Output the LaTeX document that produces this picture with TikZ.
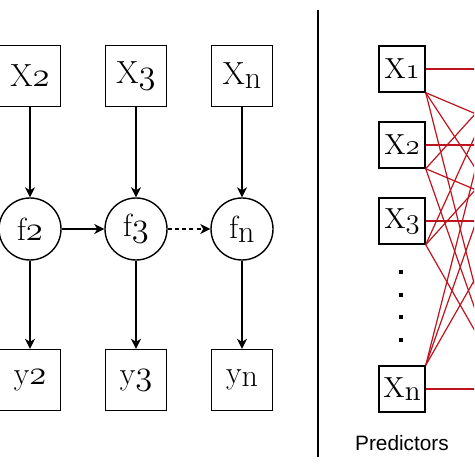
\documentclass[tikz,border=0pt]{standalone}
\usepackage{fontspec}
\newfontfamily\labelfont{Liberation Sans}
\usetikzlibrary{arrows.meta}

\definecolor{linkred}{RGB}{190,20,30}
\newcommand\osnum[1]{{\usefont{OML}{cmm}{m}{it}#1}}

\begin{document}
\begin{tikzpicture}[
	x=0.5pt, y=-0.5pt,
	var/.style={
		rectangle,
		draw=black,
		line width=0.7pt,
		minimum size=30.5pt,
		inner sep=0pt,
		font=\fontsize{16}{18}\selectfont
	},
	input/.style={
		var,
		minimum size=23pt,
		font=\fontsize{14.5}{16}\selectfont
	},
	cell/.style={
		circle,
		draw=black,
		line width=0.7pt,
		minimum size=31pt,
		inner sep=0pt,
		font=\fontsize{16}{18}\selectfont
	},
	edge/.style={-{Stealth[length=5pt,width=5pt,inset=1.5pt]},line width=0.75pt},
	link/.style={draw=linkred,line width=0.6pt},
	dot/.style={rectangle,fill=black,minimum size=2pt,inner sep=0pt},
	label/.style={font=\labelfont\fontsize{10.4}{12}\selectfont}
]

\fill[white] (0,0) rectangle (474,474);
\useasboundingbox (0,0) rectangle (474,474);
\clip (0,0) rectangle (474,474);

% Entradas (izquierda)
\node[var] (x2) at (30,76) {X\osnum{2}};
\node[var] (x3) at (136,76) {X\osnum{3}};
\node[var] (xn) at (242,76) {X\raisebox{-0.3ex}{n}};

% Celdas
\node[cell] (f2) at (30,229) {f\osnum{2}};
\node[cell] (f3) at (136,229) {f\osnum{3}};
\node[cell] (fn) at (242,229) {f\raisebox{-0.3ex}{n}};

% Salidas
\node[var] (y2) at (30,380) {y\osnum{2}};
\node[var] (y3) at (136,380) {y\osnum{3}};
\node[var] (yn) at (242,380) {y\raisebox{-0.2ex}{n}};

% Conexiones
\draw[edge] (x2) -- (f2);
\draw[edge] (x3) -- (f3);
\draw[edge] (xn) -- (fn);
\draw[edge] (f2) -- (f3);
\draw[edge,dashed,dash pattern=on 2pt off 1.6pt] (f3) -- (fn);
\draw[edge] (f2) -- (y2);
\draw[edge] (f3) -- (y3);
\draw[edge] (fn) -- (yn);

% Separador
\draw[line width=1.25pt] (318,10) -- (318,457);

% Predictores (derecha)
\node[input] (in1) at (402,69) {X\osnum{1}};
\node[input] (in2) at (402,145) {X\osnum{2}};
\node[input] (in3) at (402,221) {X\osnum{3}};
\node[input] (inn) at (402,389) {X\raisebox{-0.3ex}{n}};
\node[dot] (d1) at (401,272) {};
\node[dot] (d2) at (401,295) {};
\node[dot] (d3) at (401,317) {};
\node[dot] (d4) at (401,340) {};
\node[label] (pred) at (402,443) {Predictors};

% Capa oculta (fuera del cuadro)
\coordinate (h1) at (495,69);
\coordinate (h1s) at (495,92);
\coordinate (h2n) at (495,122);
\coordinate (h2) at (495,145);
\coordinate (h2s) at (495,168);
\coordinate (h3n) at (495,198);
\coordinate (h3) at (495,221);
\coordinate (h3s) at (495,244);
\coordinate (hnn) at (495,366);
\coordinate (hn) at (495,389);

% Enlaces
\draw[link] (in1.east) -- (h1);
\draw[link] (in1.south east) -- (h2n);
\draw[link] (in1.south east) -- (h3n);
\draw[link] (in1.south east) -- (hnn);

\draw[link] (in2.east) -- (h2);
\draw[link] (in2.south east) -- (h1s);
\draw[link] (in2.south east) -- (h3n);
\draw[link] (in2.south east) -- (hnn);

\draw[link] (in3.east) -- (h3);
\draw[link] (in3.south east) -- (h1s);
\draw[link] (in3.south east) -- (h2s);
\draw[link] (in3.south east) -- (hnn);

\draw[link] (inn.east) -- (hn);
\draw[link] (inn.north east) -- (h1s);
\draw[link] (inn.north east) -- (h2s);
\draw[link] (inn.north east) -- (h3s);

\end{tikzpicture}
\end{document}
